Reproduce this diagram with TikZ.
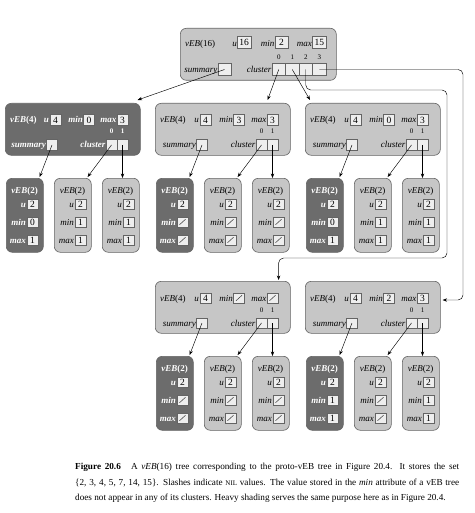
\documentclass[tikz,border=0pt]{standalone}
\usepackage{fontspec}
\setmainfont{Liberation Serif}
\usetikzlibrary{arrows.meta}
\definecolor{darkfill}{RGB}{108,108,108}
\definecolor{lightfill}{RGB}{198,198,198}
\definecolor{cellfill}{RGB}{238,238,238}
\definecolor{edgec}{RGB}{100,100,100}
\tikzset{
  boxbase/.style={draw=edgec, line width=0.6pt, rounded corners=6pt, inner sep=0pt, anchor=north west},
  boxL/.style={boxbase, fill=lightfill},
  boxD/.style={boxbase, fill=darkfill},
  cell/.style={draw=edgec, fill=cellfill, line width=0.5pt, minimum width=11pt, minimum height=10.5pt, inner sep=0pt, font=\fontsize{9.5}{9.5}\selectfont},
  bigcell/.style={cell, minimum width=13.5pt, minimum height=12pt},
  nilcell/.style={path picture={\draw[black!80, line width=0.5pt] ([shift={(2.5pt,2.5pt)}]path picture bounding box.south west) -- ([shift={(-2.5pt,-2.5pt)}]path picture bounding box.north east);}},
  labL/.style={inner sep=0pt, font=\fontsize{9}{9}\selectfont\itshape, text=black},
  labD/.style={inner sep=0pt, font=\fontsize{9}{9}\selectfont\itshape\bfseries, text=white},
  idxL/.style={inner sep=0pt, anchor=base, font=\fontsize{7}{7}\selectfont, text=black},
  idxD/.style={idxL, font=\fontsize{7}{7}\selectfont\bfseries, text=white},
  ptr/.style={draw=black, line width=0.45pt, -{Stealth[length=4.5pt,width=3.4pt]}},
}
\def\nilmark{N}
\newcommand{\valcell}[4]{%
  \def\tmpv{#4}%
  \ifx\tmpv\nilmark\node[#1,nilcell] (#2) at (#3) {};\else\node[#1] (#2) at (#3) {#4};\fi}
\newcommand{\vebfour}[6]{%
\begin{scope}[shift={(#2,#3)}]
\node[box#4, minimum width=135pt, minimum height=52pt] (#1) at (0,0) {};
\node[lab#4, anchor=base west] (#1-t) at (5,20) {vEB\upshape(4)};
\node[lab#4, anchor=base east] (#1-ul) at (44,20) {u};
\valcell{cell}{#1-u}{50.5,17}{4}
\node[lab#4, anchor=base east] (#1-minl) at (78,20) {min};
\valcell{cell}{#1-min}{84,17}{#5}
\node[lab#4, anchor=base east] (#1-maxl) at (111.5,20) {max};
\valcell{cell}{#1-max}{117.5,17}{#6}
\node[lab#4, anchor=base east] (#1-sl) at (41,45) {summary};
\valcell{cell}{#1-s}{47,42}{}
\node[lab#4, anchor=base east] (#1-cl) at (100.5,45) {cluster};
\valcell{cell}{#1-c0}{106.5,42}{}
\valcell{cell}{#1-c1}{117.5,42}{}
\node[idx#4] (#1-i0) at (106.5,31) {0};
\node[idx#4] (#1-i1) at (117.5,31) {1};
\end{scope}}
\newcommand{\vebtwo}[6]{%
\begin{scope}[shift={(#2,#3)}]
\node[box#4, minimum width=37pt, minimum height=74pt] (#1) at (0,0) {};
\node[lab#4, anchor=base] (#1-t) at (18.5,15.5) {vEB\upshape(2)};
\node[lab#4, anchor=base east] (#1-ul) at (20,29) {u};
\valcell{cell}{#1-u}{26.5,26}{2}
\node[lab#4, anchor=base east] (#1-minl) at (20,47) {min};
\valcell{cell}{#1-min}{26.5,44}{#5}
\node[lab#4, anchor=base east] (#1-maxl) at (20,65) {max};
\valcell{cell}{#1-max}{26.5,62}{#6}
\end{scope}}
\newcommand{\kids}[1]{%
\draw[ptr] (#1-s.center) -- ([shift={(-4pt,1pt)}]#11.north east);
\draw[ptr] (#1-c0.center) -- ([shift={(-4pt,1pt)}]#12.north east);
\draw[ptr] (#1-c1.center) -- (#1-c1.center |- #13.north);}
\begin{document}
\begin{tikzpicture}[x=1pt,y=-1pt]
\useasboundingbox (0,0) rectangle (474,513);
\fill[white] (0,0) rectangle (474,513);
% top vEB(16)
\begin{scope}[shift={(180,28)}]
\node[boxL, minimum width=156pt, minimum height=52pt] (T) at (0,0) {};
\node[labL, anchor=base west] (T-t) at (5,18.5) {vEB\upshape(16)};
\node[labL, anchor=base east] (T-ul) at (57,18.5) {u};
\valcell{bigcell}{T-u}{64,14.5}{16}
\node[labL, anchor=base east] (T-minl) at (94.5,18.5) {min};
\valcell{bigcell}{T-min}{101.5,14.5}{2}
\node[labL, anchor=base east] (T-maxl) at (132,18.5) {max};
\valcell{bigcell}{T-max}{139.25,14.5}{15}
\node[labL, anchor=base east] (T-sl) at (37.5,45) {summary};
\valcell{bigcell}{T-s}{44.5,41.5}{}
\node[labL, anchor=base east] (T-cl) at (91.5,45) {cluster};
\valcell{bigcell}{T-c0}{98.75,41.5}{}
\valcell{bigcell}{T-c1}{112.25,41.5}{}
\valcell{bigcell}{T-c2}{125.75,41.5}{}
\valcell{bigcell}{T-c3}{139.25,41.5}{}
\node[idxL] (T-i0) at (98.75,32) {0};
\node[idxL] (T-i1) at (112.25,32) {1};
\node[idxL] (T-i2) at (125.75,32) {2};
\node[idxL] (T-i3) at (139.25,32) {3};
\end{scope}
% row 2
\vebfour{A}{5}{103}{D}{0}{3}
\vebfour{B}{155}{103}{L}{3}{3}
\vebfour{C}{305}{103}{L}{0}{3}
% row 3
\vebtwo{A1}{6}{178}{D}{0}{1}
\vebtwo{A2}{54}{178}{L}{1}{1}
\vebtwo{A3}{102}{178}{L}{1}{1}
\vebtwo{B1}{156}{178}{D}{N}{N}
\vebtwo{B2}{204}{178}{L}{N}{N}
\vebtwo{B3}{252}{178}{L}{N}{N}
\vebtwo{C1}{306}{178}{D}{0}{1}
\vebtwo{C2}{354}{178}{L}{1}{1}
\vebtwo{C3}{402}{178}{L}{1}{1}
% row 4
\vebfour{D}{155}{281}{L}{N}{N}
\vebfour{E}{305}{281}{L}{2}{3}
% row 5
\vebtwo{D1}{156}{356}{D}{N}{N}
\vebtwo{D2}{204}{356}{L}{N}{N}
\vebtwo{D3}{252}{356}{L}{N}{N}
\vebtwo{E1}{306}{356}{D}{1}{1}
\vebtwo{E2}{354}{356}{L}{N}{N}
\vebtwo{E3}{402}{356}{L}{1}{1}
% connectors
\kids{A}\kids{B}\kids{C}\kids{D}\kids{E}
\draw[ptr] (T-s.center) -- ([shift={(-3pt,3pt)}]A.north east);
\draw[ptr] (T-c0.center) -- ([shift={(-23pt,3pt)}]B.north east);
\draw[ptr] (T-c1.center) -- ([shift={(5pt,3pt)}]C.north west);
\coordinate (k2) at (447,90);
\coordinate (k2b) at (447,258);
\coordinate (t2) at ([shift={(-12pt,1pt)}]D.north east);
\draw[ptr, rounded corners=5pt] (T-c2.center) -- (T-c2.center |- k2) -- (k2) -- (k2b) -- (k2b -| t2) -- (t2);
\coordinate (k3) at (463,0);
\coordinate (t3) at ([shift={(2pt,-19pt)}]E.north east);
\draw[ptr, rounded corners=5pt] (T-c3.center) -- (T-c3.center -| k3) -- (t3 -| k3) -- (t3);
% caption
\node[anchor=north west, inner sep=0pt, text width=384pt, align=justify, font=\fontsize{9.2}{15.5}\selectfont] (cap) at (75,463) {\textbf{Figure 20.6}\hspace{1.1em}A \textit{vEB}(16) tree corresponding to the proto-vEB tree in Figure 20.4. It stores the set\linebreak \{2, 3, 4, 5, 7, 14, 15\}. Slashes indicate {\fontsize{7}{7}\selectfont NIL} values. The value stored in the \textit{min} attribute of a vEB tree\linebreak does not appear in any of its clusters. Heavy shading serves the same purpose here as in Figure 20.4.};
\end{tikzpicture}
\end{document}
